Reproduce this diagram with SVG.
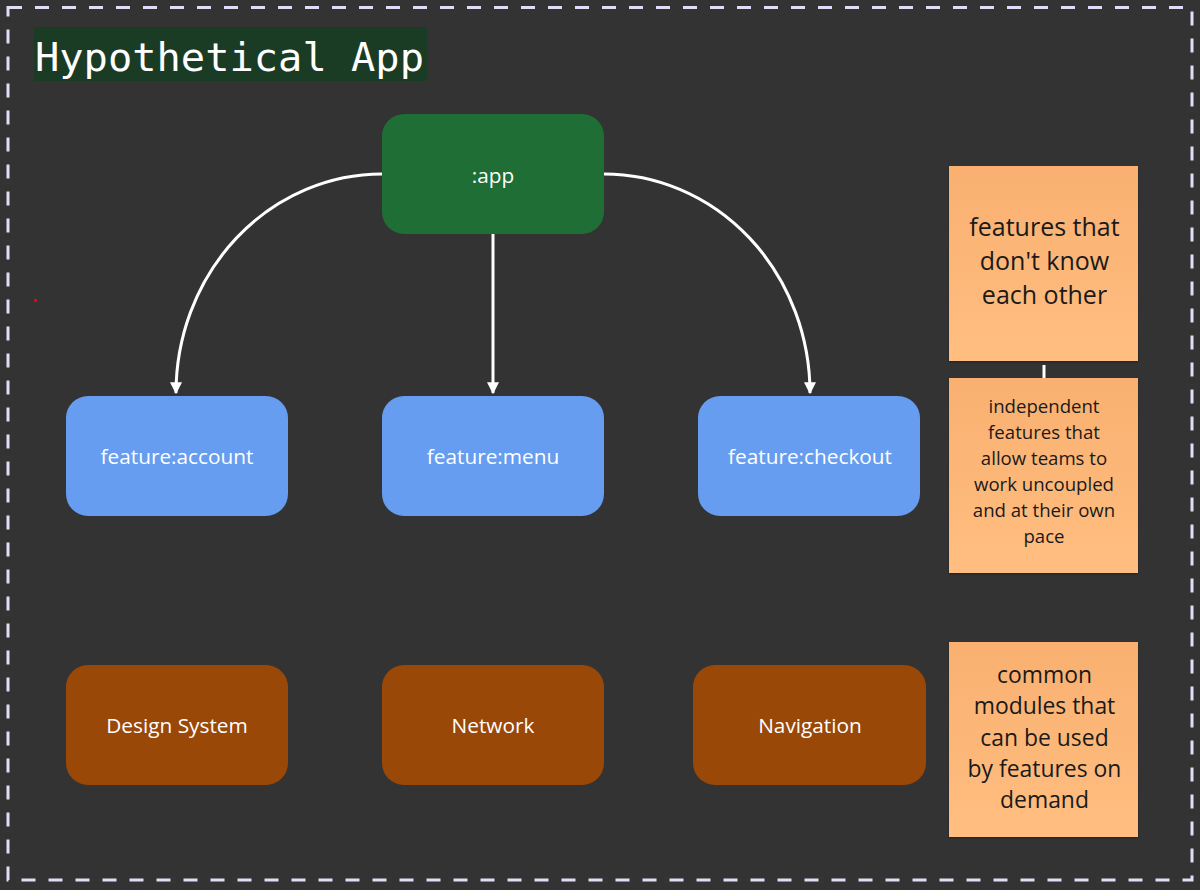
<svg xmlns="http://www.w3.org/2000/svg" width="1200" height="890" viewBox="0 0 1200 890">
  <style>
    .label { font-family: "Open Sans", "Noto Sans", sans-serif; fill: #ffffff; font-size: 20.8px; text-anchor: middle; }
    .note { font-family: "Open Sans", "Noto Sans", sans-serif; fill: #1a1a1a; text-anchor: middle; }
    .app { fill: #1e6e36; }
    .feature { fill: #669df0; }
    .common { fill: #9a4808; }
    .sticky { fill: url(#stickyFill); filter: url(#stickyShadow); }
    .edge { fill: none; stroke: #ffffff; stroke-width: 3; }
  </style>
  <defs>
    <linearGradient id="stickyFill" x1="0" y1="0" x2="0" y2="1">
      <stop offset="0" stop-color="#f9b070"/>
      <stop offset="1" stop-color="#ffbe80"/>
    </linearGradient>
    <filter id="stickyShadow" x="-5%" y="-5%" width="110%" height="110%">
      <feDropShadow dx="0" dy="1" stdDeviation="1" flood-color="#000000" flood-opacity="0.35"/>
    </filter>
    <marker id="arrow" viewBox="0 0 10 10" refX="9" refY="5" markerWidth="4" markerHeight="4" orient="auto" markerUnits="strokeWidth">
      <path d="M0,0 L10,5 L0,10 Z" fill="#ffffff"/>
    </marker>
  </defs>

  <!-- canvas -->
  <rect x="0" y="0" width="1200" height="890" fill="#333333"/>
  <rect x="8" y="7.5" width="1184" height="872.5" fill="none" stroke="#e2ddf7" stroke-width="3" stroke-dasharray="14 13"/>
  <rect x="34" y="299" width="3" height="3" fill="#d01010"/>

  <!-- title -->
  <g id="title">
    <rect x="34" y="27" width="393" height="54" fill="#1a3b24"/>
    <text x="35" y="71" font-family="DejaVu Sans Mono, Liberation Mono, monospace" font-size="39" fill="#ffffff" textLength="389" lengthAdjust="spacingAndGlyphs">Hypothetical App</text>
  </g>

  <!-- connectors -->
  <g id="connectors">
    <path class="edge" d="M382,174 A206,219 0 0 0 176,393" marker-end="url(#arrow)"/>
    <path class="edge" d="M493,234 L493,393" marker-end="url(#arrow)"/>
    <path class="edge" d="M604,174 A206,219 0 0 1 810,393" marker-end="url(#arrow)"/>
    <line x1="1044" y1="365" x2="1044" y2="397" stroke="#ffffff" stroke-width="3"/>
  </g>

  <!-- app module -->
  <g id="node-app">
    <rect class="app" x="382" y="114" width="222" height="120" rx="22"/>
    <text class="label" x="493" y="183">:app</text>
  </g>

  <!-- feature modules -->
  <g id="node-feature-account">
    <rect class="feature" x="66" y="396" width="222" height="120" rx="22"/>
    <text class="label" x="177" y="464">feature:account</text>
  </g>
  <g id="node-feature-menu">
    <rect class="feature" x="382" y="396" width="222" height="120" rx="22"/>
    <text class="label" x="493" y="464">feature:menu</text>
  </g>
  <g id="node-feature-checkout">
    <rect class="feature" x="698" y="396" width="222" height="120" rx="22"/>
    <text class="label" x="810" y="464">feature:checkout</text>
  </g>

  <!-- common modules -->
  <g id="node-design-system">
    <rect class="common" x="66" y="665" width="222" height="120" rx="22"/>
    <text class="label" x="177" y="733">Design System</text>
  </g>
  <g id="node-network">
    <rect class="common" x="382" y="665" width="222" height="120" rx="22"/>
    <text class="label" x="493" y="733">Network</text>
  </g>
  <g id="node-navigation">
    <rect class="common" x="693" y="665" width="233" height="120" rx="22"/>
    <text class="label" x="810" y="733">Navigation</text>
  </g>

  <!-- sticky notes (tspans kept on one line so no stray spaces shift the centring) -->
  <g id="note-features">
    <rect class="sticky" x="949" y="166" width="189" height="195"/>
    <text class="note" font-size="25"><tspan x="1044.5" y="236">features that</tspan><tspan x="1044.5" y="270">don't know</tspan><tspan x="1044.5" y="304">each other</tspan></text>
  </g>
  <g id="note-independent">
    <rect class="sticky" x="949" y="378" width="189" height="195"/>
    <text class="note" font-size="18.6"><tspan x="1044" y="413">independent</tspan><tspan x="1044" y="439">features that</tspan><tspan x="1044" y="465">allow teams to</tspan><tspan x="1044" y="491">work uncoupled</tspan><tspan x="1044" y="517">and at their own</tspan><tspan x="1044" y="543">pace</tspan></text>
  </g>
  <g id="note-common">
    <rect class="sticky" x="949" y="642" width="189" height="195"/>
    <text class="note" font-size="22.9"><tspan x="1044.5" y="683">common</tspan><tspan x="1044.5" y="714">modules that</tspan><tspan x="1044.5" y="746">can be used</tspan><tspan x="1044.5" y="777">by features on</tspan><tspan x="1044.5" y="808">demand</tspan></text>
  </g>
</svg>
